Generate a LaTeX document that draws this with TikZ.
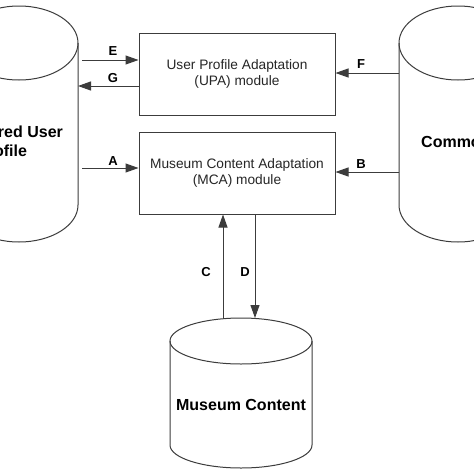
\documentclass[tikz,border=0pt]{standalone}
\usepackage{fontspec}
\setmainfont{Liberation Sans}
\usetikzlibrary{arrows.meta}
\definecolor{linegray}{RGB}{60,60,60}
\begin{document}
\begin{tikzpicture}[x=1pt,y=-1pt,
  line/.style={draw=linegray, line width=1pt},
  flow/.style={line, -{Triangle[length=13pt,width=9pt]}},
  box/.style={draw=linegray, line width=1pt, minimum width=196pt, minimum height=82pt,
    inner sep=0pt, align=center, text=black!85, font=\fontsize{13.7}{16}\selectfont},
  lbl/.style={inner sep=0pt, font=\bfseries\fontsize{13}{13}\selectfont},
  dbtext/.style={inner sep=0pt, font=\bfseries\fontsize{16}{19}\selectfont}]
\useasboundingbox (0,0) rectangle (474,474);
\fill[white] (0,0) rectangle (474,474);
\clip (0,0) rectangle (474,474);

% left cylinder (Stored User Profile)
\draw[line] (19,43) ellipse [x radius=59, y radius=37];
\draw[line] (-40,43) -- (-40,205) arc[start angle=180, end angle=0, x radius=59, y radius=37] -- (78,43);
\node[dbtext, anchor=west] (st1) at (-28,132) {Stored User};
\node[dbtext, anchor=west] (st2) at (-23,151) {Profile};

% right cylinder
\draw[line] (458,43) ellipse [x radius=59, y radius=37];
\draw[line] (399,43) -- (399,205) arc[start angle=180, end angle=0, x radius=59, y radius=37] -- (517,43);
\node[dbtext, anchor=west] (cm) at (421,142) {Common};

% bottom cylinder (Museum Content)
\draw[line] (241,341) ellipse [x radius=71, y radius=23];
\draw[line] (170,341) -- (170,445) arc[start angle=180, end angle=0, x radius=71, y radius=23] -- (312,341);
\node[dbtext] (mc) at (241,405) {Museum Content};

% modules
\node[box] (upa) at (237,74) {User Profile Adaptation\\(UPA) module};
\node[box] (mca) at (237,173) {Museum Content Adaptation\\(MCA) module};

% connector end points on the cylinders
\coordinate (e0) at (82,60);
\coordinate (g1) at (78,86);
\coordinate (a0) at (82,168);
\coordinate (f0) at (399,73);
\coordinate (b0) at (399,172);
\coordinate (c0) at (223,319);
\coordinate (d1) at (255,318);

\draw[flow] (e0) -- (upa.west |- e0);
\draw[flow] (upa.west |- g1) -- (g1);
\draw[flow] (a0) -- (mca.west |- a0);
\draw[flow] (f0) -- (upa.east |- f0);
\draw[flow] (b0) -- (mca.east |- b0);
\draw[flow] (c0) -- (mca.south -| c0);
\draw[flow] (mca.south -| d1) -- (d1);

% labels
\node[lbl] (lE) at (113,51) {E};
\node[lbl] (lG) at (113,78) {G};
\node[lbl] (lA) at (113,161) {A};
\node[lbl] (lF) at (361,64) {F};
\node[lbl] (lB) at (361,164) {B};
\node[lbl] (lC) at (206,272) {C};
\node[lbl] (lD) at (245,272) {D};
\end{tikzpicture}
\end{document}
